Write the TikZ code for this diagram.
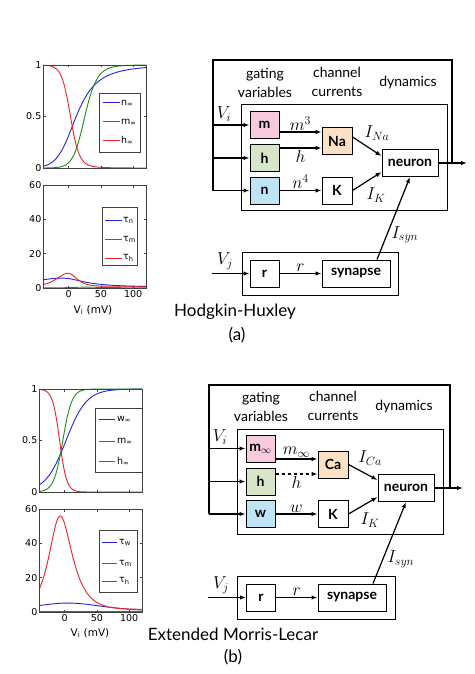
\documentclass[tikz,border=0pt]{standalone}
\usepackage{fontspec}
\setmainfont{Lato}
\newfontfamily\matfont{DejaVu Sans}
\usetikzlibrary{arrows.meta}

\definecolor{gatem}{RGB}{248,202,222}
\definecolor{gateh}{RGB}{214,230,198}
\definecolor{gaten}{RGB}{190,228,246}
\definecolor{chanNa}{RGB}{252,225,196}
\definecolor{mblue}{RGB}{35,35,215}
\definecolor{mgreen}{RGB}{25,140,25}
\definecolor{mred}{RGB}{230,35,35}

\tikzset{
  box/.style={draw, line width=1pt, inner sep=0pt, minimum height=27pt,
    font=\fontsize{14}{16}\selectfont\bfseries},
  gatebox/.style={box, minimum width=29pt},
  wire/.style={line width=1.2pt},
  arr/.style={wire, -{Latex[length=6pt,width=4.5pt]}},
  mlabel/.style={font=\fontsize{17}{20}\selectfont, inner sep=1pt},
  head/.style={font=\fontsize{14}{19}\selectfont, align=center},
  title/.style={font=\fontsize{17}{20}\selectfont},
  tick/.style={font=\matfont\fontsize{9.5}{11}\selectfont, inner sep=1.5pt},
  legtext/.style={font=\matfont\fontsize{9.5}{11}\selectfont, inner sep=1pt, anchor=west},
  axis/.style={line width=0.7pt, black!75},
  curve/.style={line width=0.9pt, smooth},
  legline/.style={line width=1pt},
  declare function={
    an(\v)=0.01*(10-\v)/(exp((10-\v)/10)-1);
    bn(\v)=0.125*exp(-\v/80);
    am(\v)=0.1*(25-\v)/(exp((25-\v)/10)-1);
    bm(\v)=4*exp(-\v/18);
    ah(\v)=0.07*exp(-\v/20);
    bh(\v)=1/(exp((30-\v)/10)+1);
    winf(\v)=1/(1+exp(-(\v-2)/16));
    minf(\v)=1/(1+exp(min(-(\v+3)/7,9)));
    hinf(\v)=1/(1+exp(min((\v+8)/5.5,9)));
    tw(\v)=5.2/cosh((\v-5)/52);
    th(\v)=1.5+108/(exp(-(\v+9)/14)+exp((\v+9)/18));
  }
}

\begin{document}
\begin{tikzpicture}[x=1pt, y=-1pt]
\useasboundingbox (0,0) rectangle (474,674);

% (a) Hodgkin-Huxley
\begin{scope}
  % steady states
  \begin{scope}[shift={(68.75,168)}, x=0.64375pt, y=103pt]
    \draw[curve, mblue]  plot[domain=-40:120, samples=121] (\x, {an(\x)/(an(\x)+bn(\x))});
    \draw[curve, mgreen] plot[domain=-40:120, samples=121] (\x, {am(\x)/(am(\x)+bm(\x))});
    \draw[curve, mred]   plot[domain=-40:120, samples=121] (\x, {ah(\x)/(ah(\x)+bh(\x))});
    \draw[axis] (-40,0) rectangle (120,1);
    \foreach \xv in {0,50,100} {
      \draw[axis] (\xv,0) -- ++(0pt,2.5pt);
      \draw[axis] (\xv,1) -- ++(0pt,-2.5pt);
    }
    \foreach \yv [count=\i] in {0,0.5,1} {
      \draw[axis] (-40,\yv) -- ++(2.5pt,0pt);
      \draw[axis] (120,\yv) -- ++(-2.5pt,0pt);
      \node[tick, anchor=east] (hhy\i) at (-40,\yv) {\yv};
    }
  \end{scope}
  \draw[axis, fill=white] (99,93) rectangle (140,152);
  \draw[legline, draw=mblue] (103,103) -- (120,103);
  \node[legtext] (lgn) at (120,103) {n\textsubscript{∞}};
  \draw[legline, draw=mgreen] (103,122) -- (120,122);
  \node[legtext] (lgm) at (120,122) {m\textsubscript{∞}};
  \draw[legline, draw=mred] (103,140) -- (120,140);
  \node[legtext] (lgh) at (120,140) {h\textsubscript{∞}};

  % time constants
  \begin{scope}[shift={(68.75,288)}, x=0.64375pt, y=1.71667pt]
    \draw[curve, mblue]  plot[domain=-40:120, samples=121] (\x, {1/(an(\x)+bn(\x))});
    \draw[curve, mgreen] plot[domain=-40:120, samples=121] (\x, {1/(am(\x)+bm(\x))});
    \draw[curve, mred]   plot[domain=-40:120, samples=121] (\x, {1/(ah(\x)+bh(\x))});
    \draw[axis] (-40,0) rectangle (120,60);
    \foreach \xv [count=\i] in {0,50,100} {
      \draw[axis] (\xv,0) -- ++(0pt,2.5pt);
      \draw[axis] (\xv,60) -- ++(0pt,-2.5pt);
      \node[tick, anchor=north, yshift=-1pt] (hhx\i) at (\xv,0) {\xv};
    }
    \foreach \yv [count=\i] in {0,20,40,60} {
      \draw[axis] (-40,\yv) -- ++(2.5pt,0pt);
      \draw[axis] (120,\yv) -- ++(-2.5pt,0pt);
      \node[tick, anchor=east] (hht\i) at (-40,\yv) {\yv};
    }
  \end{scope}
  \draw[axis, fill=white] (102,207) rectangle (137,265);
  \draw[legline, draw=mblue] (105,220) -- (122,220);
  \node[legtext] (lgtn) at (122,220) {τ\textsubscript{n}};
  \draw[legline, draw=mgreen] (105,239) -- (122,239);
  \node[legtext] (lgtm) at (122,239) {τ\textsubscript{m}};
  \draw[legline, draw=mred] (105,258) -- (122,258);
  \node[legtext] (lgth) at (122,258) {τ\textsubscript{h}};
  \node[tick, font=\matfont\fontsize{10.5}{12}\selectfont] (hhxl) at (93,310) {V\textsubscript{i} (mV)};

  % block diagram
  \node[head] (gate) at (265,83) {gating\\variables};
  \node[head] (chan) at (337,82) {channel\\currents};
  \node[head] (dyn) at (408,83) {dynamics};
  \draw[line width=1pt] (241,105) rectangle (447,210);
  \node[gatebox, fill=gatem] (m) at (264.5,125) {m};
  \node[gatebox, fill=gateh] (h) at (264.5,158) {h};
  \node[gatebox, fill=gaten] (n) at (264.5,190.5) {n};
  \node[gatebox, minimum width=30pt, fill=chanNa] (Na) at (337,141) {Na};
  \node[gatebox, minimum width=30pt] (K) at (337,190.5) {K};
  \node[box, minimum width=56pt] (neuron) at (410,163) {neuron};
  \coordinate (out) at (467,163);
  \coordinate (fb) at (452,163);
  \coordinate (fbtop) at (452,60);
  \coordinate (fbleft) at (213,60);
  \coordinate (vbot) at (213,190.5);
  \draw[arr] (neuron) -- (out);
  \draw[wire] (fb) -- (fbtop) -- (fbleft) -- (vbot);
  \draw[arr] (fbleft |- m) -- (m);
  \draw[arr] (fbleft |- h) -- (h);
  \draw[arr] (vbot) -- (n);
  \node[mlabel] (Vi) at (224,114) {$V_i$};
  \draw[arr] ([yshift=-7pt]m.east) -- node[mlabel, above] (lm) {$m^3$} ([yshift=9pt]Na.west);
  \draw[arr] ([yshift=10pt]h.east) -- node[mlabel, below=1pt] (lh) {$h$} ([yshift=-7pt]Na.west);
  \draw[arr] (n) -- node[mlabel, above] (ln) {$n^4$} (K);
  \draw[arr] ([yshift=4pt]Na.east) -- ([yshift=7pt]neuron.west);
  \node[mlabel] (lINa) at (377,133) {$I_{Na}$};
  \draw[arr] (K.east) -- ([yshift=-9pt]neuron.west);
  \node[mlabel] (lIK) at (376,195) {$I_K$};

  % synapse
  \draw[line width=1pt] (242,252) rectangle (398,295);
  \node[gatebox] (r) at (264.5,273.5) {r};
  \node[box, minimum width=68pt] (syn) at (356,273.5) {synapse};
  \coordinate (vj) at (212,273.5);
  \draw[arr] (vj) -- (r);
  \node[mlabel] (Vj) at (225,261) {$V_j$};
  \draw[arr] (r) -- node[mlabel, above] (lr) {$r$} (syn);
  \draw[arr] ([xshift=21pt]syn.north) -- node[mlabel, pos=0.3, right=3pt] (lIsyn) {$I_{syn}$} (neuron.south);

  \node[title] (hh) at (235,312) {Hodgkin-Huxley};
  \node[title] (pa) at (237,335) {(a)};
\end{scope}

% (b) Extended Morris-Lecar
\begin{scope}[shift={(-4,324)}]
  % steady states
  \begin{scope}[shift={(68.75,168)}, x=0.64375pt, y=103pt]
    \draw[curve, mblue]  plot[domain=-40:120, samples=121] (\x, {winf(\x)});
    \draw[curve, mgreen] plot[domain=-40:120, samples=121] (\x, {minf(\x)});
    \draw[curve, mred]   plot[domain=-40:120, samples=121] (\x, {hinf(\x)});
    \draw[axis] (-40,0) rectangle (120,1);
    \foreach \xv in {0,50,100} {
      \draw[axis] (\xv,0) -- ++(0pt,2.5pt);
      \draw[axis] (\xv,1) -- ++(0pt,-2.5pt);
    }
    \foreach \yv [count=\i] in {0,0.5,1} {
      \draw[axis] (-40,\yv) -- ++(2.5pt,0pt);
      \draw[axis] (120,\yv) -- ++(-2.5pt,0pt);
      \node[tick, anchor=east] (mly\i) at (-40,\yv) {\yv};
    }
  \end{scope}
  \draw[axis, fill=white] (99,84) rectangle (146,148);
  \draw[legline, draw=mblue] (103,95) -- (119,95);
  \node[legtext] (lgw) at (120,95) {w\textsubscript{∞}};
  \draw[legline, draw=mgreen] (103,117) -- (119,117);
  \node[legtext] (lgm2) at (120,117) {m\textsubscript{∞}};
  \draw[legline, draw=mred] (103,137) -- (119,137);
  \node[legtext] (lgh2) at (120,137) {h\textsubscript{∞}};

  % time constants
  \begin{scope}[shift={(68.75,288)}, x=0.64375pt, y=1.71667pt]
    \draw[curve, mblue]  plot[domain=-40:120, samples=121] (\x, {tw(\x)});
    \draw[curve, mgreen] plot[domain=-40:120, samples=121] (\x, {0.2});
    \draw[curve, mred]   plot[domain=-40:120, samples=121] (\x, {th(\x)});
    \draw[axis] (-40,0) rectangle (120,60);
    \foreach \xv [count=\i] in {0,50,100} {
      \draw[axis] (\xv,0) -- ++(0pt,2.5pt);
      \draw[axis] (\xv,60) -- ++(0pt,-2.5pt);
      \node[tick, anchor=north, yshift=-1pt] (mlx\i) at (\xv,0) {\xv};
    }
    \foreach \yv [count=\i] in {0,20,40,60} {
      \draw[axis] (-40,\yv) -- ++(2.5pt,0pt);
      \draw[axis] (120,\yv) -- ++(-2.5pt,0pt);
      \node[tick, anchor=east] (mlt\i) at (-40,\yv) {\yv};
    }
  \end{scope}
  \draw[axis, fill=white] (103,206) rectangle (141,268);
  \draw[legline, draw=mblue] (106,218) -- (121,218);
  \node[legtext] (lgtw) at (122,218) {τ\textsubscript{w}};
  \draw[legline, draw=mgreen] (106,239) -- (121,239);
  \node[legtext] (lgtm2) at (122,239) {τ\textsubscript{m}};
  \draw[legline, draw=mred] (106,257) -- (121,257);
  \node[legtext] (lgth2) at (122,257) {τ\textsubscript{h}};
  \node[tick, font=\matfont\fontsize{10.5}{12}\selectfont] (mlxl) at (94,309) {V\textsubscript{i} (mV)};

  % block diagram
  \node[head] (gate2) at (265,83) {gating\\variables};
  \node[head] (chan2) at (337,82) {channel\\currents};
  \node[head] (dyn2) at (408,83) {dynamics};
  \draw[line width=1pt] (241,105) rectangle (447,210);
  \node[gatebox, fill=gatem] (m2) at (264.5,124.5) {m$_\infty$};
  \node[gatebox, fill=gateh] (h2) at (264.5,157.5) {h};
  \node[gatebox, fill=gaten] (w2) at (264.5,190) {w};
  \node[gatebox, minimum width=30pt, fill=chanNa] (Ca2) at (337,140.5) {Ca};
  \node[gatebox, minimum width=30pt] (K2) at (337,190) {K};
  \node[box, minimum width=56pt] (neuron2) at (410,164) {neuron};
  \coordinate (out2) at (467,164);
  \coordinate (fb2) at (454,164);
  \coordinate (fbtop2) at (454,61);
  \coordinate (fbleft2) at (213,61);
  \coordinate (vbot2) at (213,190);
  \draw[arr] (neuron2) -- (out2);
  \draw[wire] (fb2) -- (fbtop2) -- (fbleft2) -- (vbot2);
  \draw[arr] (fbleft2 |- m2) -- (m2);
  \draw[arr] (fbleft2 |- h2) -- (h2);
  \draw[arr] (vbot2) -- (w2);
  \node[mlabel] (Vi2) at (224,113) {$V_i$};
  \draw[arr] ([yshift=-10.5pt]m2.east) -- node[mlabel, above] (lm2) {$m_\infty$} ([yshift=5.5pt]Ca2.west);
  \draw[arr, dashed] ([yshift=7.5pt]h2.east) -- node[mlabel, below=1pt] (lh2) {$h$} ([yshift=-9.5pt]Ca2.west);
  \draw[arr] (w2) -- node[mlabel, above] (lw2) {$w$} (K2);
  \draw[arr] ([yshift=0pt]Ca2.east) -- ([yshift=8pt]neuron2.west);
  \node[mlabel] (lICa) at (374,134) {$I_{Ca}$};
  \draw[arr] (K2.east) -- ([yshift=-9pt]neuron2.west);
  \node[mlabel] (lIK2) at (374,196) {$I_K$};

  % synapse
  \draw[line width=1pt] (241,252) rectangle (399,295);
  \node[gatebox] (r2) at (265,273.5) {r};
  \node[box, minimum width=68pt] (syn2) at (356,273.5) {synapse};
  \coordinate (vj2) at (212,273.5);
  \draw[arr] (vj2) -- (r2);
  \node[mlabel] (Vj2) at (225,261) {$V_j$};
  \draw[arr] (r2) -- node[mlabel, above] (lr2) {$r$} (syn2);
  \draw[arr] ([xshift=21pt]syn2.north) -- node[mlabel, pos=0.3, right=3pt] (lIsyn2) {$I_{syn}$} (neuron2.south);

  \node[title] (ml) at (237,310) {Extended Morris-Lecar};
  \node[title] (pb) at (237,333) {(b)};
\end{scope}
\end{tikzpicture}
\end{document}
